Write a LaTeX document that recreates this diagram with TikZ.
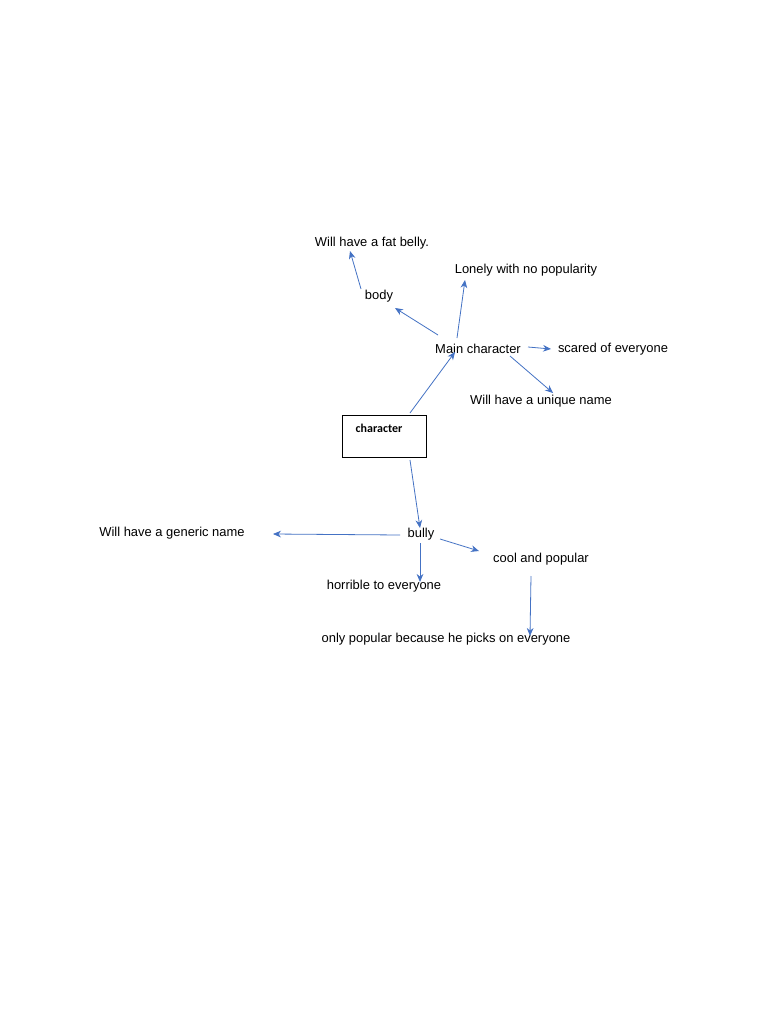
\documentclass[tikz,border=0pt]{standalone}
\usepackage{fontspec}
\setmainfont{Liberation Sans}
\newfontfamily\calib{Carlito}
\usetikzlibrary{arrows.meta}
\definecolor{arr}{RGB}{68,114,196}
\begin{document}
\begin{tikzpicture}[x=0.75pt,y=-0.75pt,
  lbl/.style={inner sep=0pt,anchor=center,font=\fontsize{9.7}{12}\selectfont},
  con/.style={draw=arr,line width=0.6pt,-{Stealth[length=6pt,width=5pt]}}]
\useasboundingbox[fill=white] (0,0) rectangle (768,1024);
\node[draw,line width=0.5pt,minimum width=63pt,minimum height=31.5pt,inner sep=0pt] (charbox) at (384,436) {};
\node[inner sep=0pt,font=\calib\bfseries\fontsize{9}{11}\selectfont] (char) at (379,428) {character};
\node[lbl] (belly) at (372,243) {Will have a fat belly.};
\node[lbl] (lonely) at (526,270) {Lonely with no popularity};
\node[lbl] (body) at (379,296) {body};
\node[lbl] (main) at (478,349) {Main character};
\node[lbl] (scared) at (613,349) {scared of everyone};
\node[lbl] (unique) at (541,401) {Will have a unique name};
\node[lbl] (generic) at (172,533) {Will have a generic name};
\node[lbl] (bully) at (421,534) {bully};
\node[lbl] (cool) at (541,559) {cool and popular};
\node[lbl] (horrible) at (384,586) {horrible to everyone};
\node[lbl] (only) at (446,639) {only popular because he picks on everyone};
\coordinate (c1) at (410,413); \coordinate (m1) at (455,352);
\draw[con] (c1) -- (m1);
\coordinate (m2) at (438,335); \coordinate (b1) at (395,308);
\draw[con] (m2) -- (b1);
\coordinate (b2) at (361,289); \coordinate (f1) at (350,251);
\draw[con] (b2) -- (f1);
\coordinate (m3) at (457,338); \coordinate (l1) at (465,280);
\draw[con] (m3) -- (l1);
\coordinate (m4) at (528,347); \coordinate (s1) at (551,349);
\draw[con] (m4) -- (s1);
\coordinate (m5) at (510,356); \coordinate (u1) at (553,393);
\draw[con] (m5) -- (u1);
\coordinate (c2) at (410,460); \coordinate (bu1) at (420,528);
\draw[con] (c2) -- (bu1);
\coordinate (bu2) at (400,535); \coordinate (g1) at (273,534);
\draw[con] (bu2) -- (g1);
\coordinate (bu3) at (440,539); \coordinate (co1) at (479,551);
\draw[con] (bu3) -- (co1);
\coordinate (bu4) at (420,543); \coordinate (h1) at (420,582);
\draw[con] (bu4) -- (h1);
\coordinate (co2) at (531,576); \coordinate (o1) at (530,636);
\draw[con] (co2) -- (o1);
\end{tikzpicture}
\end{document}
